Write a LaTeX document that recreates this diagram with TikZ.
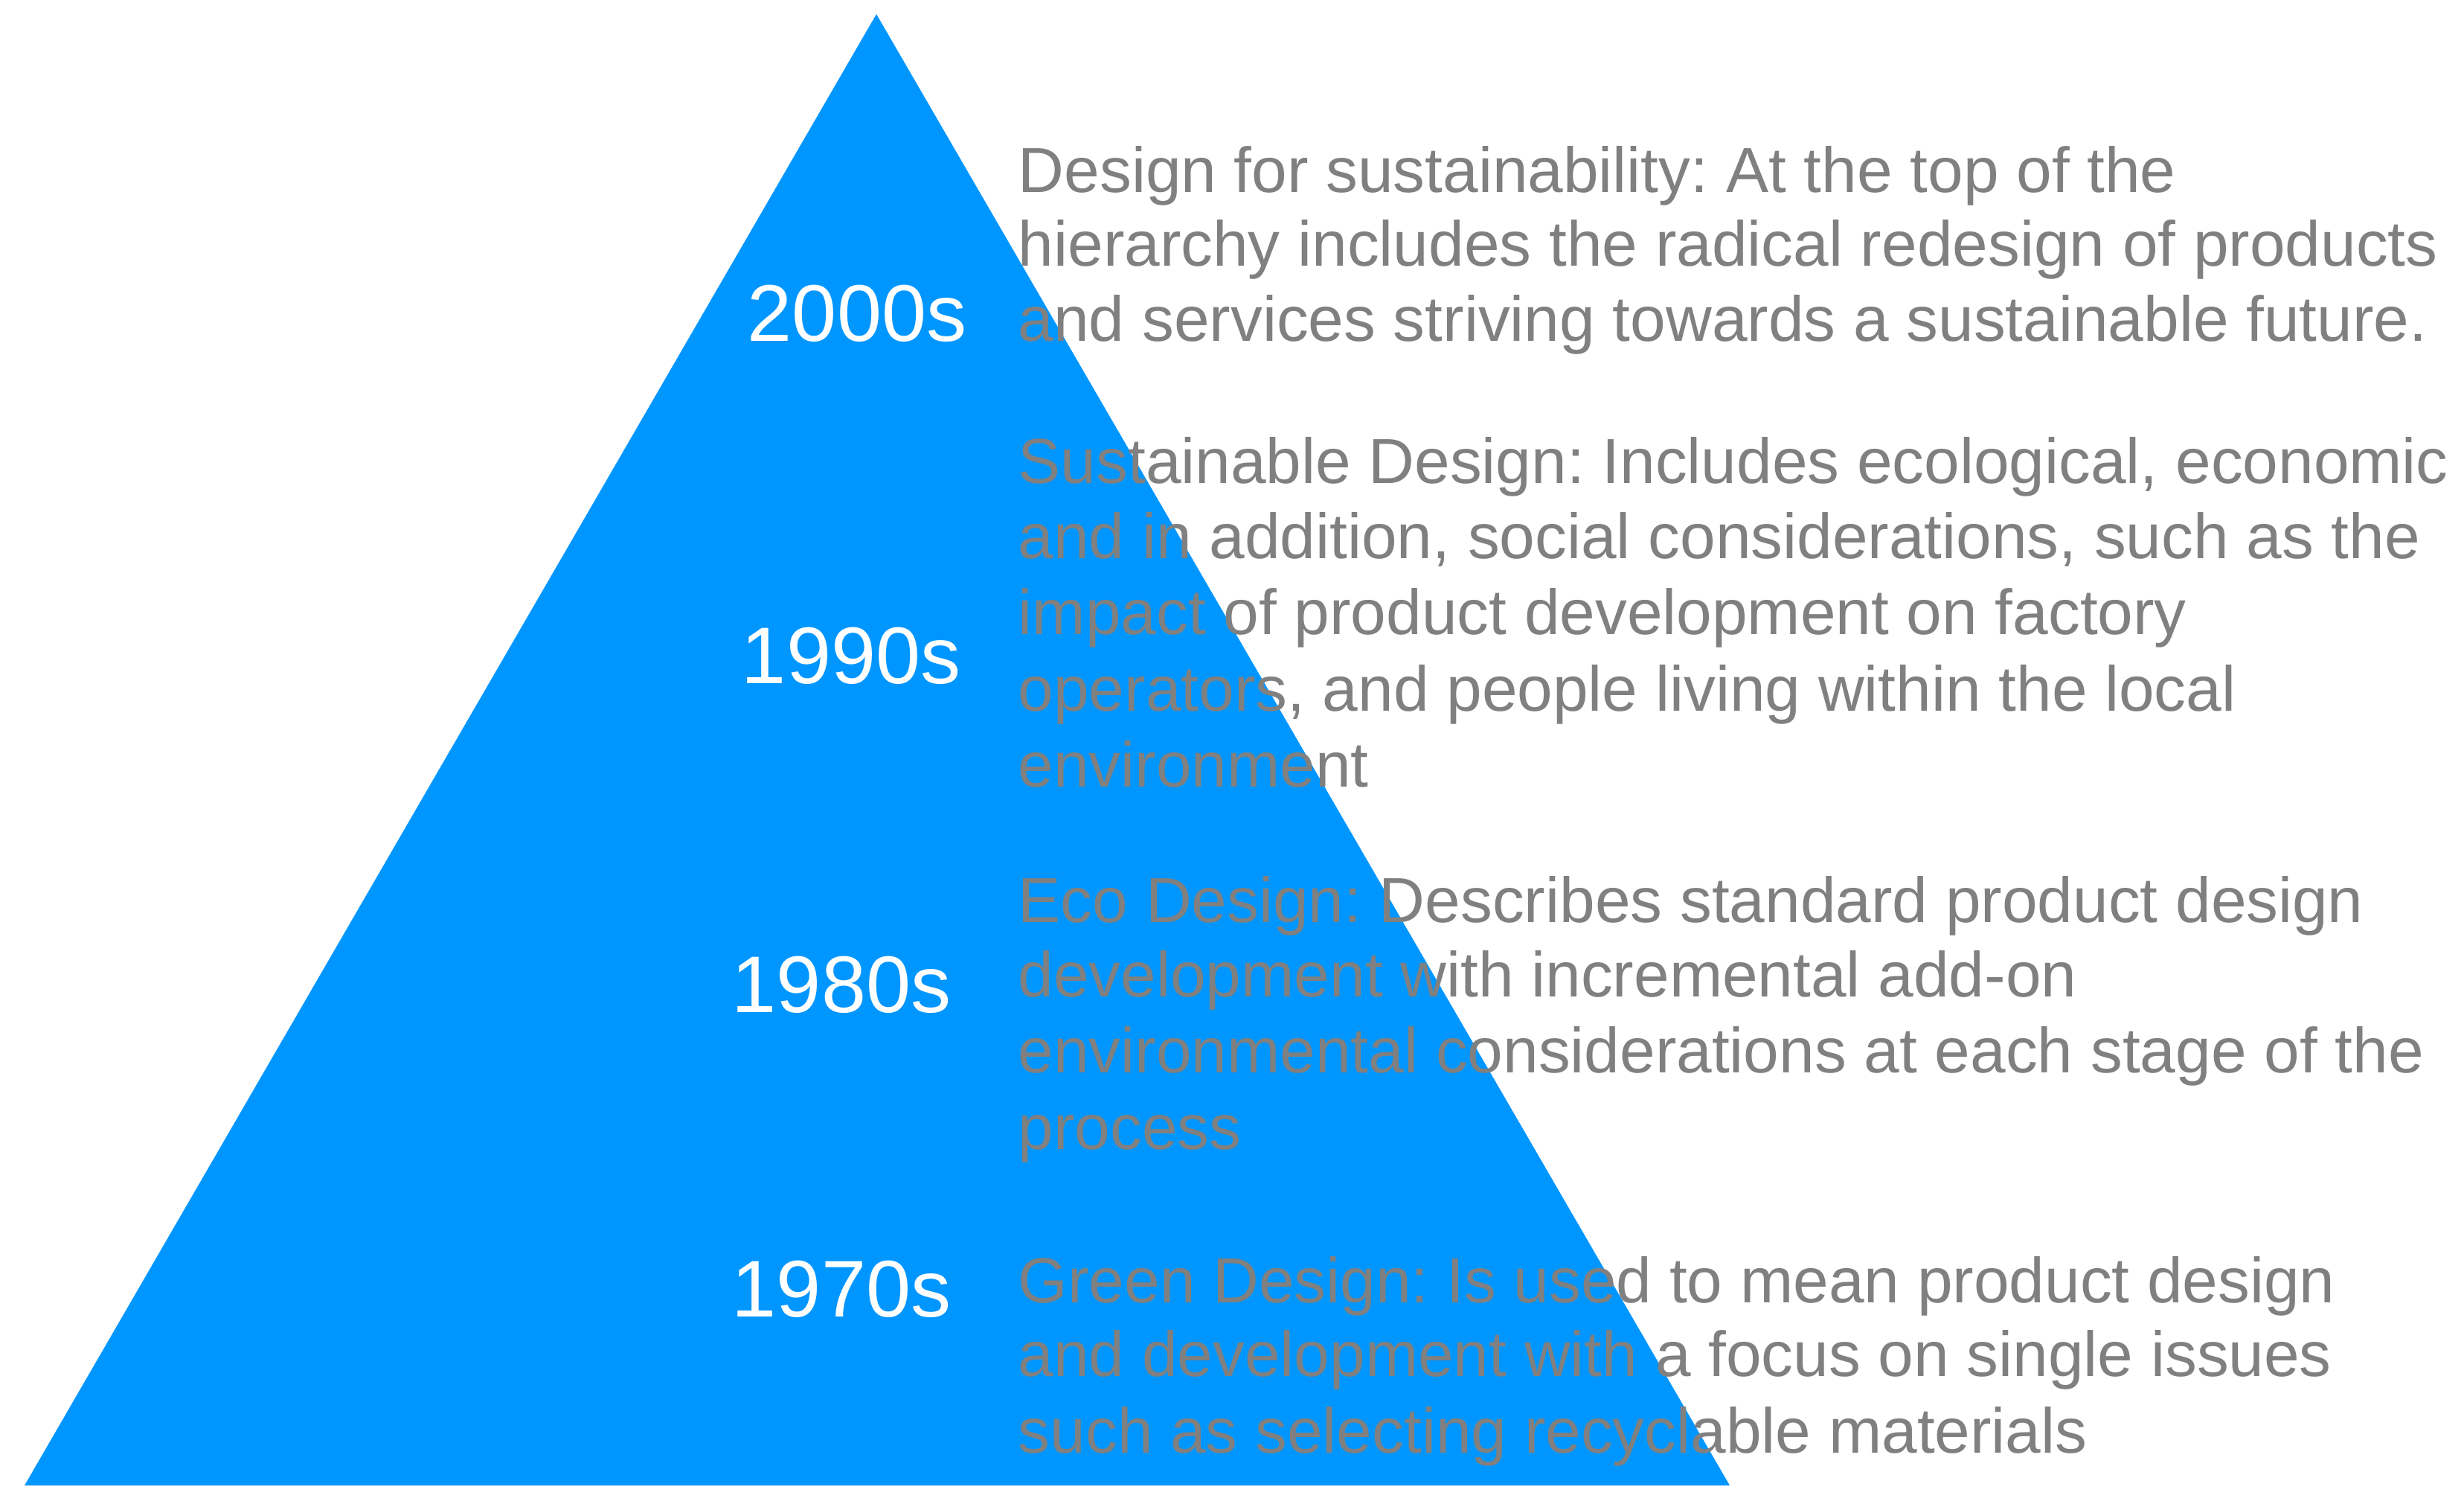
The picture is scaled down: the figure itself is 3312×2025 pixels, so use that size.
\documentclass[tikz,border=0pt]{standalone}
\usepackage{fontspec}
\setmainfont{Liberation Sans}
\frenchspacing
\definecolor{pyrblue}{RGB}{0,150,255}
\definecolor{txtgray}{RGB}{128,128,128}
\begin{document}
\begin{tikzpicture}[x=0.25pt,y=-0.25pt,
  desc/.style={anchor=base west,inner sep=0pt,text=txtgray,font=\fontsize{21.4pt}{25pt}\selectfont},
  year/.style={anchor=base east,inner sep=0pt,text=white,font=\fontsize{27pt}{30pt}\selectfont}]
\useasboundingbox (0,0) rectangle (3312,2025);
\fill[white] (0,0) rectangle (3312,2025);
\coordinate (apex) at (1178,19);
\coordinate (bl) at (33,1996);
\coordinate (br) at (2325,1996);
\fill[pyrblue] (apex) -- (bl) -- (br) -- cycle;
% years
\node[year] (y2000) at (1300,458) {2000s};
\node[year] (y1990) at (1292,918) {1990s};
\node[year] (y1980) at (1279,1360) {1980s};
\node[year] (y1970) at (1279,1769) {1970s};
% block 1
\node[desc] (a1) at (1368,258) {Design for sustainability: At the top of the};
\node[desc] (a2) at (1368,357) {hierarchy includes the radical redesign of products};
\node[desc] (a3) at (1368,458) {and services striving towards a sustainable future.};
% block 2
\node[desc] (b1) at (1368,649) {Sustainable Design: Includes ecological, economic};
\node[desc] (b2) at (1368,750) {and in addition, social considerations, such as the};
\node[desc] (b3) at (1368,852) {impact of product development on factory};
\node[desc] (b4) at (1368,955) {operators, and people living within the local};
\node[desc] (b5) at (1368,1057) {environment};
% block 3
\node[desc] (c1) at (1368,1239) {Eco Design: Describes standard product design};
\node[desc] (c2) at (1368,1339) {development with incremental add-on};
\node[desc] (c3) at (1368,1441) {environmental considerations at each stage of the};
\node[desc] (c4) at (1368,1544) {process};
% block 4
\node[desc] (e1) at (1368,1750) {Green Design: Is used to mean product design};
\node[desc] (e2) at (1368,1849) {and development with a focus on single issues};
\node[desc] (e3) at (1368,1952) {such as selecting recyclable materials};
\end{tikzpicture}
\end{document}
